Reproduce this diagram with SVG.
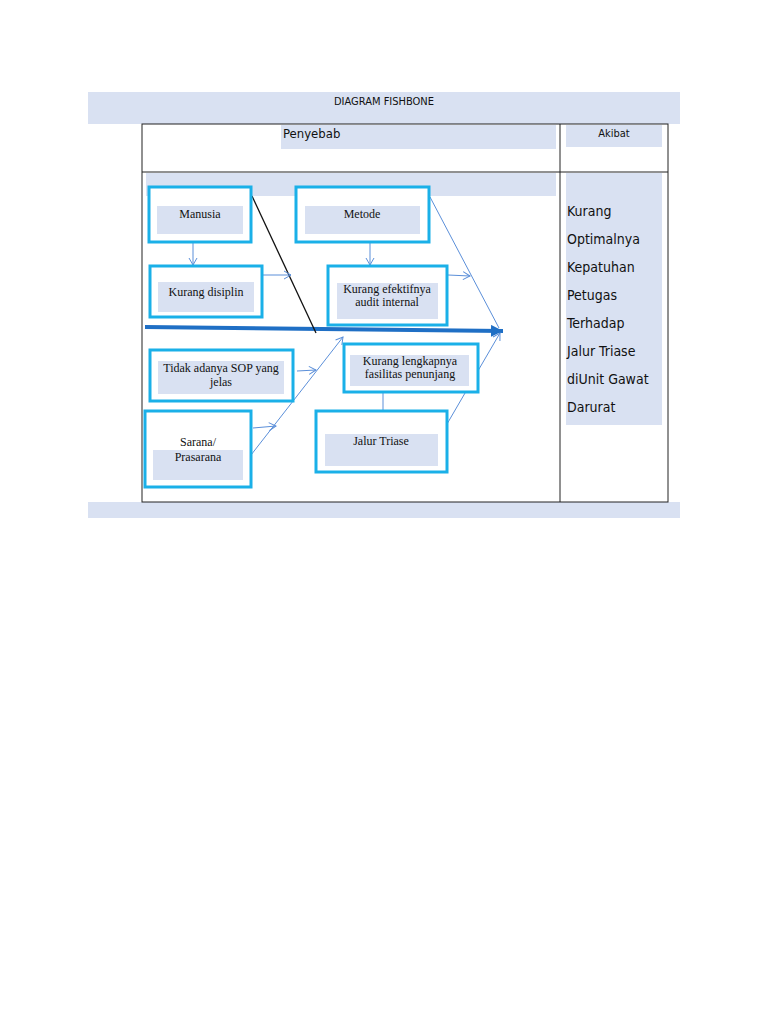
<svg xmlns="http://www.w3.org/2000/svg" width="768" height="1024" viewBox="0 0 768 1024">
<style>
.band{fill:#d9e1f2}
.box{fill:#fff;stroke:#1ab0e8;stroke-width:3}
.t{font-family:"Liberation Serif",serif;font-size:12px;fill:#111;text-anchor:middle}
.s{font-family:"DejaVu Sans Condensed","DejaVu Sans",sans-serif;fill:#111}
.thin{stroke:#5b8fd9;stroke-width:1;fill:none}
</style>
<defs>
<marker id="oa" markerWidth="10" markerHeight="10" refX="8" refY="5" orient="auto" markerUnits="userSpaceOnUse"><path d="M1,1 L8,5 L1,9" fill="none" stroke="#5b8fd9" stroke-width="1"/></marker>
<marker id="ba" markerWidth="14" markerHeight="12" refX="12" refY="6" orient="auto" markerUnits="userSpaceOnUse"><path d="M0,0 L12,6 L0,12 Z" fill="#1f6fc5"/></marker>
</defs>
<rect width="768" height="1024" fill="#fff"/>
<rect class="band" x="88" y="92" width="592" height="32"/>
<text class="s" x="384" y="105" font-size="11" text-anchor="middle">DIAGRAM FISHBONE</text>
<rect class="band" x="88" y="502" width="592" height="16"/>
<rect x="142" y="124" width="526" height="378" fill="#fff" stroke="#222" stroke-width="1"/>
<line x1="560" y1="124" x2="560" y2="502" stroke="#222"/>
<line x1="142" y1="172" x2="668" y2="172" stroke="#222"/>
<rect class="band" x="281" y="125" width="275" height="24"/>
<text class="s" x="283" y="138" font-size="13">Penyebab</text>
<rect class="band" x="566" y="125" width="96" height="22"/>
<text class="s" x="614" y="137" font-size="11" text-anchor="middle">Akibat</text>
<rect class="band" x="146" y="173" width="410" height="23"/>
<rect class="band" x="566" y="173" width="96" height="252"/>
<g class="s" font-size="14">
<text x="567" y="216">Kurang</text>
<text x="567" y="244">Optimalnya</text>
<text x="567" y="272">Kepatuhan</text>
<text x="567" y="300">Petugas</text>
<text x="567" y="328">Terhadap</text>
<text x="567" y="356">Jalur Triase</text>
<text x="567" y="384">diUnit Gawat</text>
<text x="567" y="412">Darurat</text>
</g>
<g id="connectors">
<line x1="145" y1="327" x2="503" y2="331" stroke="#1f6fc5" stroke-width="4" marker-end="url(#ba)"/>
<line x1="252" y1="196" x2="316" y2="333" stroke="#111" stroke-width="1.3"/>
<line class="thin" x1="193" y1="243" x2="193" y2="265" marker-end="url(#oa)"/>
<line class="thin" x1="370" y1="243" x2="370" y2="265" marker-end="url(#oa)"/>
<line class="thin" x1="263" y1="275" x2="291" y2="275" marker-end="url(#oa)"/>
<line class="thin" x1="448" y1="275" x2="470" y2="276" marker-end="url(#oa)"/>
<line class="thin" x1="430" y1="197" x2="499" y2="328"/>
<line class="thin" x1="297" y1="371" x2="316" y2="370" marker-end="url(#oa)"/>
<line class="thin" x1="253" y1="428" x2="276" y2="426" marker-end="url(#oa)"/>
<line class="thin" x1="251" y1="455" x2="343" y2="337" marker-end="url(#oa)"/>
<line class="thin" x1="383" y1="411" x2="383" y2="393" stroke="#a8c0e8"/>
<line class="thin" x1="447" y1="424" x2="500" y2="333" marker-end="url(#oa)"/>
</g>
<g id="manusia"><rect class="box" x="149" y="187" width="102" height="55"/><rect class="band" x="157" y="206" width="86" height="28"/><text class="t" x="200" y="218">Manusia</text></g>
<g id="metode"><rect class="box" x="296" y="187" width="133" height="55"/><rect class="band" x="305" y="206" width="115" height="28"/><text class="t" x="362" y="218">Metode</text></g>
<g id="disiplin"><rect class="box" x="150" y="266" width="112" height="51"/><rect class="band" x="158" y="282" width="96" height="30"/><text class="t" x="206" y="296">Kurang disiplin</text></g>
<g id="audit"><rect class="box" x="328" y="266" width="119" height="59"/><rect class="band" x="337" y="283" width="101" height="36"/><text class="t" x="387" y="293" font-size="10.5">Kurang efektifnya</text><text class="t" x="387" y="306" font-size="10.5">audit internal</text></g>
<g id="sop"><rect class="box" x="150" y="350" width="143" height="51"/><rect class="band" x="158" y="361" width="126" height="33"/><text class="t" x="221" y="372">Tidak adanya SOP yang</text><text class="t" x="221" y="386">jelas</text></g>
<g id="fasilitas"><rect class="box" x="344" y="344" width="134" height="48"/><rect class="band" x="350" y="355" width="119" height="31"/><text class="t" x="410" y="365" font-size="10.5">Kurang lengkapnya</text><text class="t" x="410" y="378" font-size="10.5">fasilitas penunjang</text></g>
<g id="sarana"><rect class="box" x="145" y="411" width="106" height="76"/><rect class="band" x="153" y="450" width="90" height="30"/><text class="t" x="198" y="446">Sarana/</text><text class="t" x="198" y="461">Prasarana</text></g>
<g id="jalur"><rect class="box" x="316" y="411" width="131" height="61"/><rect class="band" x="325" y="434" width="113" height="32"/><text class="t" x="381" y="445" font-size="11">Jalur Triase</text></g>
</svg>
